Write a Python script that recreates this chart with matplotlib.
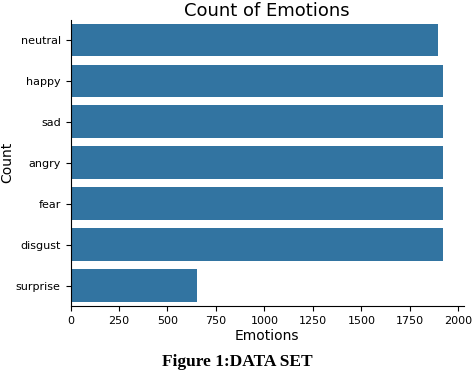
import matplotlib
matplotlib.use("Agg")
import matplotlib.pyplot as plt

categories = ["neutral", "happy", "sad", "angry", "fear", "disgust", "surprise"]
counts = [1895, 1923, 1923, 1923, 1923, 1923, 652]
xticks = [0, 250, 500, 750, 1000, 1250, 1500, 1750, 2000]

fig = plt.figure(figsize=(4.74, 3.72), dpi=100)
ax = fig.add_axes([70.5/474, 1 - 306/372, (464-70.5)/474, (306-19.5)/372])
ypos = list(range(len(categories)))
ax.barh(ypos, counts, height=0.8, color="#3274a1")
ax.set_yticks(ypos)
ax.set_yticklabels(categories, fontsize=8)
ax.set_ylim(len(categories) - 0.5, -0.5)
ax.set_xlim(0, max(counts) * 1.055)
ax.set_xticks(xticks)
ax.set_xticklabels([str(t) for t in xticks], fontsize=8)
for s in ["top", "right"]:
    ax.spines[s].set_visible(False)
ax.set_xlabel("Emotions", fontsize=10, labelpad=2)
ax.set_ylabel("Count", fontsize=10, labelpad=1)
ax.set_title("Count of Emotions", fontsize=13, pad=1)
fig.text(0.5, 1 - 362/372, "Figure 1:DATA SET", ha="center", va="center",
         fontsize=12.5, fontweight="bold", family="Liberation Serif")
fig.savefig("out.png", dpi=100)
